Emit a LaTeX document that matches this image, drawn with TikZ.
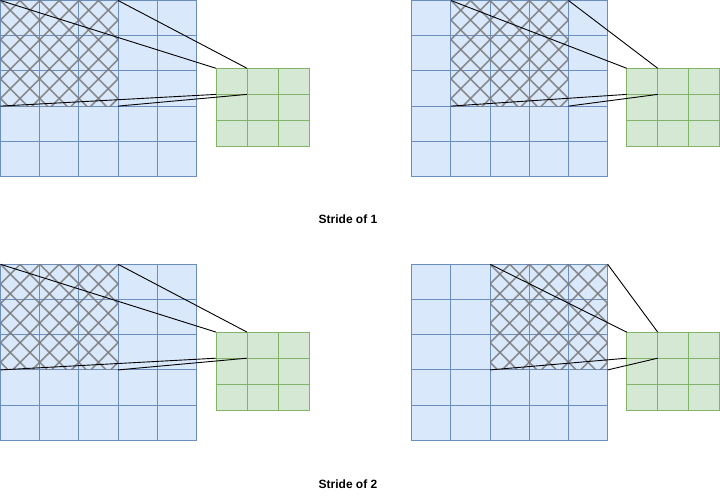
\documentclass[tikz,border=0pt]{standalone}
\usepackage{fontspec}
\setmainfont{Liberation Sans}
\usetikzlibrary{positioning, calc}
\definecolor{cvBlue}{HTML}{DAE8FC}
\definecolor{cvBlueLine}{HTML}{6C8EBF}
\definecolor{cvGreen}{HTML}{D5E8D4}
\definecolor{cvGreenLine}{HTML}{82B366}
\definecolor{cvHatch}{HTML}{7A7A7A}
\tikzset{
  incell/.style={rectangle, draw=cvBlueLine, fill=cvBlue, line width=1pt,
    minimum width=39.2pt, minimum height=35.2pt, inner sep=0pt, outer sep=0pt},
  outcell/.style={rectangle, draw=cvGreenLine, fill=cvGreen, line width=1pt,
    minimum width=31pt, minimum height=26.1pt, inner sep=0pt, outer sep=0pt},
  hatchline/.style={draw=cvHatch, line width=1.6pt, opacity=0.85},
  linkline/.style={draw=black, line width=0.9pt},
  stridelabel/.style={font=\bfseries\fontsize{12}{14}\selectfont, inner sep=0pt}
}

\begin{document}
\begin{tikzpicture}[x=1pt, y=-1pt]
  \useasboundingbox (0,0) rectangle (720,500);
  \foreach \p/\gx/\gy/\hc/\ox in {tl/0.5/0.5/0/216, tr/411.7/0.5/1/626.7,
                                  bl/0.5/264.3/0/216, br/411.7/264.3/2/626.7} {
    \pgfmathtruncatemacro{\hd}{\hc+2}
    % input grid
    \foreach \r in {0,...,4} {
      \foreach \c in {0,...,4} {
        \node[incell] (\p-in-\r-\c) at (\gx+\c*39.2+19.6, \gy+\r*35.2+17.6) {};
      }
    }
    % hatched window
    \begin{scope}
      \clip (\p-in-0-\hc.north west) rectangle (\p-in-2-\hd.south east);
      \foreach \k in {-6,...,12} {
        \draw[hatchline] ($(\p-in-0-\hc.north west)+(\k*19.6,0)$) -- ++(140,140);
        \draw[hatchline] ($(\p-in-0-\hc.north west)+(\k*19.6,0)$) -- ++(-140,140);
      }
    \end{scope}
    % output grid
    \foreach \r in {0,...,2} {
      \foreach \c in {0,...,2} {
        \node[outcell] (\p-out-\r-\c) at (\ox+\c*31+15.5, \gy+67.8+\r*26.1+13.05) {};
      }
    }
    \draw[linkline] (\p-in-0-\hc.north west) -- (\p-out-0-0.north west);
    \draw[linkline] (\p-in-0-\hd.north east) -- (\p-out-0-0.north east);
    \draw[linkline] (\p-in-2-\hc.south west) -- (\p-out-0-0.south west);
    \draw[linkline] (\p-in-2-\hd.south east) -- (\p-out-0-0.south east);
  }
  \node[stridelabel] (strideone) at (348,219) {Stride of 1};
  \node[stridelabel] (stridetwo) at (348,484) {Stride of 2};
\end{tikzpicture}
\end{document}
